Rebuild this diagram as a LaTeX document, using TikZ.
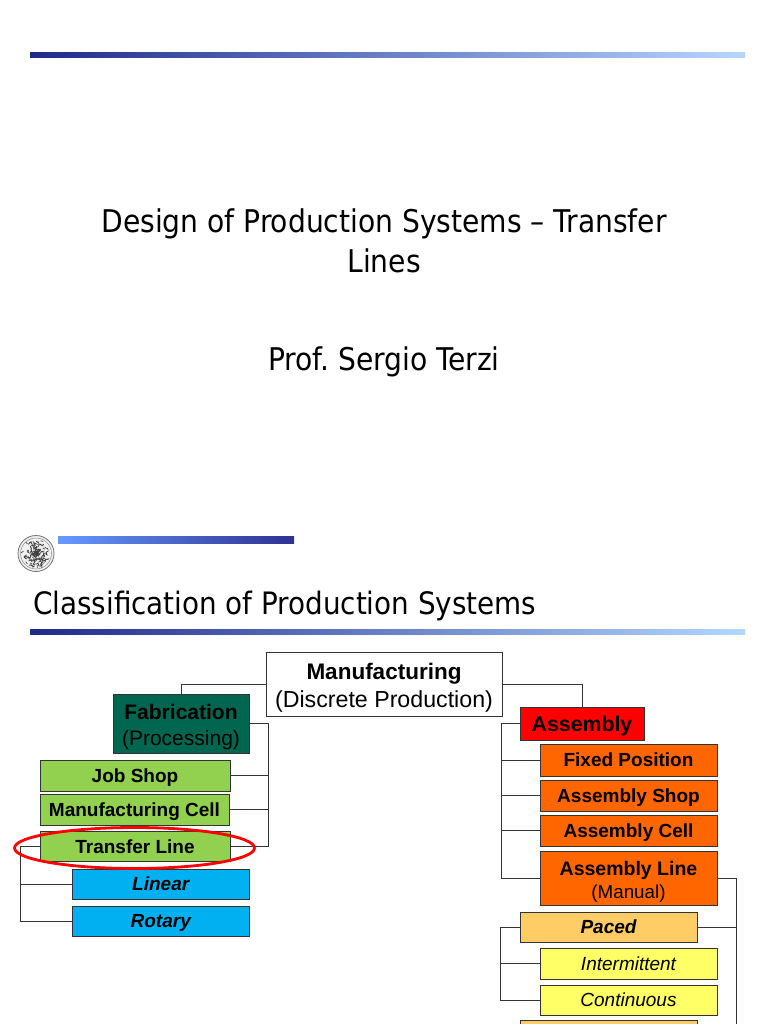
\documentclass[tikz,border=0pt]{standalone}
\usepackage{fontspec}
\setmainfont{Liberation Sans}
\newfontfamily\titlefont{DejaVu Sans Condensed}
\usetikzlibrary{shadows,calc}
\frenchspacing
\definecolor{barA}{HTML}{1F2A8C}
\definecolor{barB}{HTML}{B4D7FF}
\definecolor{barC}{HTML}{6699FF}
\definecolor{barD}{HTML}{2E3192}
\definecolor{fabc}{HTML}{006650}
\definecolor{greenc}{HTML}{92D050}
\definecolor{bluec}{HTML}{00B0F0}
\definecolor{orangec}{HTML}{FF6600}
\definecolor{pacedc}{HTML}{FFCC66}
\definecolor{yellowc}{HTML}{FFFF66}
\definecolor{linec}{HTML}{333333}
\tikzset{
  box/.style={draw=linec,line width=1pt,inner sep=0pt,outer sep=0pt,align=center,text=black,
    general shadow={shadow xshift=0.8pt,shadow yshift=-0.8pt,fill=black!35}},
  conn/.style={draw=linec,line width=1pt},
  titletext/.style={anchor=base,inner sep=0pt,font=\titlefont\fontsize{31.3}{35}\selectfont},
  big/.style={font=\fontsize{21}{26}\selectfont},
  lab/.style={font=\bfseries\fontsize{19}{24}\selectfont,text height=13.7pt,text depth=0pt},
  labit/.style={font=\bfseries\itshape\fontsize{19}{24}\selectfont,text height=13.7pt,text depth=0pt},
  labri/.style={font=\itshape\fontsize{19}{24}\selectfont,text height=13.7pt,text depth=0pt},
}
\begin{document}
\begin{tikzpicture}[x=1pt,y=-1pt]
\useasboundingbox (0,0) rectangle (768,1024);
\clip (0,0) rectangle (768,1024);
\fill[white] (0,0) rectangle (768,1024);
% bars
\shade[left color=barA,right color=barB] (30,53) rectangle (745,57.5);
\shade[left color=barC,right color=barD] (58,536) rectangle (294,543);
\shade[left color=barA,right color=barB] (30,629.5) rectangle (745,634);
% titles
\node[titletext] (t1) at (384,233) {Design of Production Systems – Transfer};
\node[titletext] (t2) at (384,272) {Lines};
\node[titletext] (t3) at (384,370) {Prof. Sergio Terzi};
\node[titletext,anchor=base west,font=\titlefont\fontsize{30.9}{35}\selectfont] (t4) at (33,614) {Classification of Production Systems};
% seal
\fill[black!6] (36,553.5) circle (18);
\draw[black!55,line width=0.8pt] (36,553.5) circle (18);
\draw[black!45,line width=0.5pt] (36,553.5) circle (15.5);
\pgfmathsetseed{7}
\foreach \i in {1,...,170}{
  \pgfmathsetmacro\ang{rnd*360}
  \pgfmathsetmacro\rad{rnd*13.5}
  \pgfmathsetmacro\dang{rnd*360}
  \draw[black!75,line width=0.7pt,line cap=round] ($(36,553.5)+(\ang:\rad)$) -- ++(\dang:2.2);
}
% nodes
\node[box,fill=white,minimum width=236pt,minimum height=64pt,font=\fontsize{23.2}{28}\selectfont] (man) at (384,684)
  {\rule{0pt}{23.5pt}{\bfseries\fontsize{22.5}{28}\selectfont Manufacturing}\\(Discrete Production)};
\node[box,fill=fabc,minimum width=136pt,minimum height=59pt,big] (fab) at (181,723.5)
  {\rule{0pt}{22.5pt}{\bfseries Fabrication}\\(Processing)};
\node[box,fill=greenc,minimum width=190pt,minimum height=31pt,lab] (job) at (135,775.5) {Job Shop};
\node[box,fill=greenc,minimum width=189pt,minimum height=31pt,lab] (cell) at (134.5,809.5) {Manufacturing Cell};
\node[box,fill=greenc,minimum width=190pt,minimum height=30pt,lab] (tl) at (135,846.5) {Transfer Line};
\node[box,fill=bluec,minimum width=177pt,minimum height=30pt,labit] (linear) at (160.75,884) {Linear};
\node[box,fill=bluec,minimum width=177pt,minimum height=30pt,labit] (rotary) at (160.75,921) {Rotary};
\node[box,fill=red,minimum width=124pt,minimum height=33pt,font=\bfseries\fontsize{21.3}{26}\selectfont,text height=15.3pt,text depth=0pt] (asm) at (582,723.5) {Assembly};
\node[box,fill=orangec,minimum width=177pt,minimum height=32pt,lab] (fixed) at (628.5,760) {Fixed Position};
\node[box,fill=orangec,minimum width=177pt,minimum height=31pt,lab] (ashop) at (628.5,795.5) {Assembly Shop};
\node[box,fill=orangec,minimum width=177pt,minimum height=31pt,lab] (acell) at (628.5,830.5) {Assembly Cell};
\node[box,fill=orangec,minimum width=177pt,minimum height=54pt,font=\fontsize{18.8}{23}\selectfont] (aline) at (628.5,878)
  {\rule{0pt}{21.5pt}{\bfseries\fontsize{19.5}{23}\selectfont Assembly Line}\\(Manual)};
\node[box,fill=pacedc,minimum width=177pt,minimum height=30pt,labit] (paced) at (608.5,927) {Paced};
\node[box,fill=yellowc,minimum width=177pt,minimum height=31pt,labri] (inter) at (628.5,963.5) {Intermittent};
\node[box,fill=yellowc,minimum width=177pt,minimum height=30pt,labri] (cont) at (628.5,1000) {Continuous};
\node[box,fill=pacedc,minimum width=177pt,minimum height=30pt] (last) at (608.5,1035) {};
% trunk coordinates
\coordinate (ftrunk) at (268.5,724);
\coordinate (ttrunk) at (20.5,846);
\coordinate (atrunk) at (501,723);
\coordinate (ptrunk) at (736,878);
\coordinate (qtrunk) at (500.5,927);
\coordinate (bottom) at (736,1030);
% connectors
\draw[conn] (man.west) -| (fab.north);
\draw[conn] (man.east) -| (asm.north);
\draw[conn] (fab.east) -| (ftrunk |- tl.east) -- (tl.east);
\draw[conn] (job.east) -- (ftrunk |- job.east);
\draw[conn] (cell.east) -- (ftrunk |- cell.east);
\draw[conn] (tl.west) -| (ttrunk |- rotary.west) -- (rotary.west);
\draw[conn] (linear.west) -- (ttrunk |- linear.west);
\draw[conn] (asm.west) -| (atrunk |- aline.west) -- (aline.west);
\draw[conn] (fixed.west) -- (atrunk |- fixed.west);
\draw[conn] (ashop.west) -- (atrunk |- ashop.west);
\draw[conn] (acell.west) -- (atrunk |- acell.west);
\draw[conn] (aline.east) -| (bottom);
\draw[conn] (paced.east) -- (ptrunk |- paced.east);
\draw[conn] (paced.west) -| (qtrunk |- cont.west) -- (cont.west);
\draw[conn] (inter.west) -- (qtrunk |- inter.west);
% highlight
\draw[red,line width=2.8pt] (134.5,848) ellipse [x radius=120,y radius=20.5];
\end{tikzpicture}
\end{document}
